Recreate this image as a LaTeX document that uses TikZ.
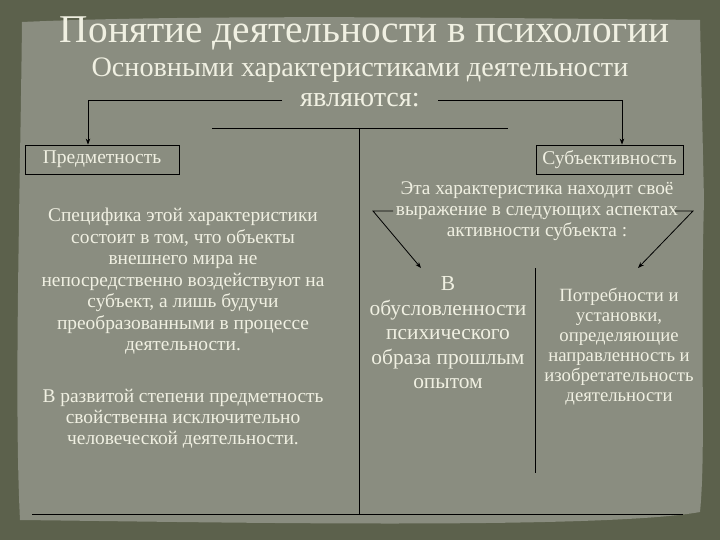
\documentclass[tikz,border=0pt]{standalone}
\usepackage{fontspec}
\setmainfont{Liberation Serif}
\usetikzlibrary{arrows.meta}
\definecolor{outerbg}{RGB}{92,97,76}
\definecolor{paper}{RGB}{138,141,128}
\definecolor{txt}{RGB}{240,240,226}
\tikzset{
  txtnode/.style={text=txt, align=center, inner sep=0pt},
  boxnode/.style={draw=black, line width=0.8pt, text=txt, inner sep=0pt},
  conn/.style={draw=black, line width=0.8pt},
  arr/.style={conn, -{Stealth[length=6pt,width=4.5pt]}}
}
\begin{document}
\begin{tikzpicture}[x=1pt,y=-1pt]
\useasboundingbox (0,0) rectangle (720,540);
\fill[outerbg] (0,0) rectangle (720,540);
\fill[paper] (22,22) .. controls (200,14) and (500,18) .. (700,20)
  -- (704,200) .. controls (700,350) and (706,450) .. (700,512)
  .. controls (600,530) and (200,522) .. (20,520)
  .. controls (14,400) and (20,200) .. cycle;

\node[txtnode, font=\fontsize{39.3}{42}\selectfont] (title) at (365,33) {Понятие деятельности в психологии};
\node[txtnode, font=\fontsize{28.2}{30}\selectfont] (sub1) at (360,70) {Основными характеристиками деятельности};
\node[txtnode, font=\fontsize{28.2}{30}\selectfont] (sub2) at (360,100) {являются:};

\node[boxnode, minimum width=154pt, minimum height=29pt, font=\fontsize{19.5}{21}\selectfont] (pred) at (102,159.5) {Предметность};
\node[boxnode, minimum width=147pt, minimum height=29pt, font=\fontsize{19.5}{21}\selectfont] (subj) at (609.5,159.5) {Субъективность};

\node[txtnode, font=\fontsize{19.3}{21}\selectfont] (eta) at (537,211) {Эта характеристика находит своё\\выражение в следующих аспектах\\активности субъекта :};

\node[txtnode, font=\fontsize{19.4}{21.5}\selectfont] (left1) at (183,281.5) {Специфика этой характеристики\\состоит в том, что объекты\\внешнего мира не\\непосредственно воздействуют на\\субъект, а лишь будучи\\преобразованными в процессе\\деятельности.};
\node[txtnode, font=\fontsize{19.4}{21}\selectfont] (left2) at (183,419) {В развитой степени предметность\\свойственна исключительно\\человеческой деятельности.};

\node[txtnode, font=\fontsize{21.4}{24.5}\selectfont] (mid) at (448,333) {В\\обусловленности\\психического\\образа прошлым\\опытом};
\node[txtnode, font=\fontsize{18.7}{20}\selectfont] (right) at (619,346.5) {Потребности и\\установки,\\определяющие\\направленность и\\изобретательность\\деятельности};

% connectors
\coordinate (tl) at (282,100);
\coordinate (pl) at (88,100);
\coordinate (tr) at (438,100);
\coordinate (pr) at (622,100);
\draw[arr] (tl) -- (pl) -- (pl |- pred.north);
\draw[arr] (tr) -- (pr) -- (pr |- subj.north);

\coordinate (ml) at (212,128);
\coordinate (mr) at (508,128);
\coordinate (mc) at (359,128);
\coordinate (bl) at (32,514);
\coordinate (br) at (683,514);
\coordinate (bc) at (359,514);
\draw[conn] (ml) -- (mr);
\draw[conn] (mc) -- (bc);
\draw[conn] (bl) -- (br);

\coordinate (vt) at (535,268);
\coordinate (vb) at (535,473);
\draw[conn] (vt) -- (vb);

\coordinate (al1) at (393,211);
\coordinate (al2) at (373,211);
\coordinate (al3) at (421,268);
\draw[arr] (al1) -- (al2) -- (al3);
\coordinate (ar1) at (675,211);
\coordinate (ar2) at (693,211);
\coordinate (ar3) at (638,268);
\draw[arr] (ar1) -- (ar2) -- (ar3);
\end{tikzpicture}
\end{document}
